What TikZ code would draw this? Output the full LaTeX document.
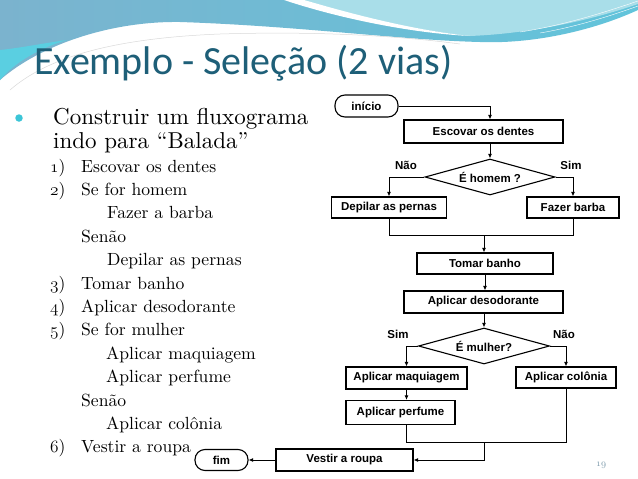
\documentclass[tikz,border=0pt]{standalone}
\usepackage{fontspec}
\usetikzlibrary{shapes.geometric,arrows.meta}
\newfontfamily\flowfont{Liberation Sans}
\newfontfamily\titlefont{Carlito}
\newfontfamily\bodyfont{lmroman10-regular.otf}
\newcommand\osn[1]{{\usefont{OML}{cmm}{m}{it}#1}}
\definecolor{titleblue}{HTML}{1E5F78}
\definecolor{bannerA}{HTML}{7BB3CE}
\definecolor{bannerB}{HTML}{62C4DB}
\definecolor{bannerC}{HTML}{A9DEE9}
\definecolor{tipcyan}{HTML}{5ACFE1}
\definecolor{bulletcyan}{HTML}{3CC5D7}
\definecolor{pagenum}{HTML}{7F9CAD}
\tikzset{
  box/.style={draw, line width=1.1pt, inner sep=0pt, font=\flowfont\bfseries\fontsize{11.5}{13}\selectfont},
  term/.style={box, rounded corners=10pt},
  decision/.style={box, diamond, aspect=3.6},
  conn/.style={line width=0.9pt, -{Latex[length=4.5pt,width=4pt]}},
  plain/.style={line width=0.9pt},
  lab/.style={font=\flowfont\bfseries\fontsize{11.5}{13}\selectfont, inner sep=0pt},
  bodyline/.style={anchor=base west, inner sep=0pt, font=\bodyfont\fontsize{17.6}{20}\selectfont},
  bigline/.style={anchor=base west, inner sep=0pt, font=\bodyfont\fontsize{23}{26}\selectfont},
}
\begin{document}
\begin{tikzpicture}[x=1pt,y=-1pt]
\useasboundingbox (0,0) rectangle (638,479);
\fill[white] (0,0) rectangle (638,479);
% banner
\shade[left color=bannerA, right color=bannerB] (0,0) -- (638,0) -- (638,10)
  .. controls (590,32) and (530,44) .. (480,42)
  .. controls (400,40) and (300,26) .. (180,22)
  .. controls (110,21) and (40,45) .. (0,80) -- cycle;
\fill[bannerC] (300,0) -- (638,0) -- (638,4)
  .. controls (580,24) and (520,34) .. (470,36)
  .. controls (410,30) and (350,14) .. (300,0) -- cycle;
\fill[white] (284,0) -- (304,0) .. controls (352,14) and (412,30) .. (470,36)
  .. controls (410,33) and (338,18) .. (284,0) -- cycle;
\draw[white, line width=0.4pt] (638,1) .. controls (600,14) and (560,26) .. (520,32);
\draw[white, line width=0.4pt] (638,6) .. controls (605,18) and (570,28) .. (540,33);
\fill[tipcyan] (0,50) .. controls (20,48) and (45,43) .. (67,40)
  .. controls (40,48) and (15,62) .. (0,80) -- cycle;
\draw[gray!30, line width=0.5pt] (10,90) .. controls (50,55) and (120,38) .. (220,34)
  .. controls (320,31) and (400,36) .. (460,44);
% title
\node[anchor=base west, inner sep=0pt, text=titleblue, font=\titlefont\fontsize{40}{44}\selectfont] (title) at (34,74) {Exemplo - Seleção (2 vias)};
% left text
\node[circle, fill=bulletcyan, inner sep=0pt, minimum size=7.5pt] (bullet) at (19,118) {};
\node[bigline] (b1) at (53,124) {Construir um fluxograma};
\node[bigline] (b2) at (53,148) {indo para “Balada”};
\node[bodyline] (n1) at (50,172) {\osn{1})};
\node[bodyline] (t1) at (81,172) {Escovar os dentes};
\node[bodyline] (n2) at (50,195.4) {\osn{2})};
\node[bodyline] (t2) at (81,195.4) {Se for homem};
\node[bodyline] (t3) at (107,218.8) {Fazer a barba};
\node[bodyline] (t4) at (81,242.2) {Senão};
\node[bodyline] (t5) at (107,265.6) {Depilar as pernas};
\node[bodyline] (n3) at (50,289) {\osn{3})};
\node[bodyline] (t6) at (81,289) {Tomar banho};
\node[bodyline] (n4) at (50,312.4) {\osn{4})};
\node[bodyline] (t7) at (81,312.4) {Aplicar desodorante};
\node[bodyline] (n5) at (50,335.8) {\osn{5})};
\node[bodyline] (t8) at (81,335.8) {Se for mulher};
\node[bodyline] (t9) at (106,359.2) {Aplicar maquiagem};
\node[bodyline] (t10) at (106,382.6) {Aplicar perfume};
\node[bodyline] (t11) at (81,406) {Senão};
\node[bodyline] (t12) at (106,429.4) {Aplicar colônia};
\node[bodyline] (n6) at (50,452.8) {\osn{6})};
\node[bodyline] (t13) at (81,452.8) {Vestir a roupa};
% flowchart
\node[term, minimum width=63pt, minimum height=22pt] (ini) at (366.5,106) {início};
\node[box, minimum width=159pt, minimum height=23pt] (esc) at (483.5,131.5) {Escovar os dentes};
\node[decision, minimum width=130pt, minimum height=36pt] (hom) at (490,177) {É homem ?};
\node[box, minimum width=115pt, minimum height=21pt] (dep) at (389,207.5) {Depilar as pernas};
\node[box, minimum width=92pt, minimum height=21pt] (faz) at (573,207.5) {Fazer barba};
\coordinate (j1) at (484,235);
\node[box, minimum width=136pt, minimum height=21pt] (tom) at (485,263.5) {Tomar banho};
\node[box, minimum width=159pt, minimum height=22pt] (des) at (483.5,302) {Aplicar desodorante};
\node[decision, minimum width=131pt, minimum height=36pt] (mul) at (484,346) {É mulher?};
\node[box, minimum width=121pt, minimum height=22pt] (maq) at (406.5,378) {Aplicar maquiagem};
\node[box, minimum width=100pt, minimum height=21pt] (col) at (566,377.5) {Aplicar colônia};
\node[box, minimum width=109pt, minimum height=24pt] (per) at (400.5,412.5) {Aplicar perfume};
\coordinate (j2) at (484,442);
\node[box, minimum width=137pt, minimum height=22pt] (ves) at (344.5,460) {Vestir a roupa};
\node[term, minimum width=53pt, minimum height=21pt] (fim) at (221.5,460) {fim};
\node[lab] (l1) at (406,165) {Não};
\node[lab] (l2) at (571,165) {Sim};
\node[lab] (l3) at (398,334) {Sim};
\node[lab] (l4) at (564,334) {Não};
\draw[conn] (ini.east) -| (hom.north |- esc.north);
\draw[conn] (hom.north |- esc.south) -- (hom.north);
\draw[conn] (hom.west) -| (dep.north);
\draw[conn] (hom.east) -| (faz.north);
\draw[plain] (dep.south) |- (j1);
\draw[plain] (faz.south) |- (j1);
\draw[conn] (j1) -- (j1 |- tom.north);
\draw[conn] (tom.south) -- (tom.south |- des.north);
\draw[conn] (mul.north |- des.south) -- (mul.north);
\draw[conn] (mul.west) -| (maq.north);
\draw[conn] (mul.east) -| (col.north);
\draw[conn] (maq.south) -- (maq.south |- per.north);
\draw[plain] (maq.south |- per.south) |- (j2);
\draw[plain] (col.south) |- (j2);
\draw[conn] (j2) |- (ves.east);
\draw[conn] (ves.west) -- (fim.east);
% page number
\node[inner sep=0pt, text=pagenum, font=\bodyfont\fontsize{10}{12}\selectfont] (pg) at (601,465) {\osn{19}};
\end{tikzpicture}
\end{document}
